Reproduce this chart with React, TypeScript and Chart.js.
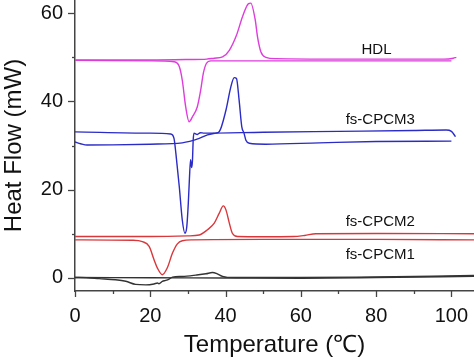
import React, { useEffect, useRef } from 'react';
import { Chart, registerables } from 'chart.js';

Chart.register(...registerables);

type Pt = [number, number];

// Temperature (°C), heat flow (mW)
const hdlHeating: Pt[] = [
  [0, 49.4], [20, 49.4], [30, 49.5], [35, 49.6], [37, 49.8], [39.2, 50.1], [41, 51.6],
  [42.9, 55.0], [44.5, 59.2], [46.1, 62.2], [46.7, 62.3], [47.9, 58.4], [48.5, 54.6],
  [49.4, 51.2], [50.7, 50.0], [53.4, 49.7], [70, 49.6], [98, 49.6], [100.5, 49.8], [101.3, 50.0],
];
const hdlCooling: Pt[] = [
  [0, 49.3], [20, 49.2], [26.3, 49.0], [27.7, 47.9], [28.5, 44.8], [29.4, 38.8], [30.3, 35.4],
  [31.2, 36.5], [32.5, 38.8], [33.4, 42.6], [34.1, 46.4], [34.9, 48.6], [36.1, 49.2],
  [60, 49.2], [100, 49.2],
];
const cpcm3Heating: Pt[] = [
  [0, 30.8], [1.5, 30.4], [3.2, 30.1], [10, 30.15], [20, 30.3], [28.5, 30.6], [33, 31.6],
  [35.2, 32.4], [37.4, 32.8], [38.3, 33.1], [40.1, 38.0], [41.4, 43.3], [42.3, 45.4],
  [42.9, 45.2], [43.6, 40.3], [44.3, 34.3], [44.9, 32.8], [45.4, 31.2], [46.3, 30.5],
  [50.7, 30.3], [64.9, 30.6], [80, 30.9], [100, 31.0],
];
const cpcm3Cooling: Pt[] = [
  [0, 33.1], [20, 32.8], [25.4, 32.6], [26.3, 31.6], [26.8, 28.2], [27.7, 20.7], [28.5, 13.1],
  [29.2, 10.1], [29.7, 11.6], [30.1, 16.9], [30.4, 22.5], [30.7, 26.8], [31.0, 25.0],
  [31.2, 26.5], [31.4, 31.2], [31.6, 32.8], [32.5, 32.5], [33.3, 32.9], [34.3, 32.8],
  [50, 33.0], [70, 33.2], [90, 33.4], [98.6, 33.5], [100, 33.2], [101.1, 32.0],
];
const cpcm2Heating: Pt[] = [
  [0, 9.35], [20, 9.35], [30, 9.5], [33, 9.7], [35.2, 10.9], [37, 12.4], [38.3, 14.6],
  [39.4, 16.3], [40.1, 15.4], [41, 12.4], [41.8, 10.1], [43.2, 9.35], [50, 9.3], [58, 9.35],
  [61, 9.6], [64, 10.0], [80, 10.05], [106, 10.0],
];
const cpcm2Cooling: Pt[] = [
  [0, 8.6], [15.2, 8.5], [17.9, 8.2], [19.7, 7.1], [21, 4.1], [21.9, 2.2], [23.2, 0.7],
  [24.5, 2.2], [25.9, 5.6], [27.2, 7.7], [28.5, 8.4], [31.2, 8.6], [50, 8.7], [80, 8.7], [106, 8.6],
];
const cpcm1Heating: Pt[] = [
  [0, 0.07], [3, 0], [6.4, -0.2], [10.8, -0.45], [13.5, -0.8], [16.1, -1.5], [18.8, -1.6],
  [21, -1.4], [21.9, -1.2], [22.3, -1.35], [23.2, -0.8], [24.1, -0.6], [25, -0.3], [25.9, 0.15],
  [28.5, 0.3], [32.1, 0.6], [34.8, 0.9], [36.5, 1.2], [37.8, 0.9], [39.2, 0.3], [40.5, 0.1],
  [46, 0.05], [60, 0.05], [80, 0.2], [95, 0.35], [106, 0.5],
];
const cpcm1Cooling: Pt[] = [
  [0, 0.05], [20, 0.0], [40, -0.05], [60, -0.1], [80, 0.05], [106, 0.35],
];

const seriesNames = ['HDL', 'fs-CPCM3', 'fs-CPCM2', 'fs-CPCM1'];
const seriesColors = ['#dd3ddb', '#2b2bc6', '#d8383c', '#333333'];
const seriesCurves: Pt[][][] = [
  [hdlHeating, hdlCooling],
  [cpcm3Heating, cpcm3Cooling],
  [cpcm2Heating, cpcm2Cooling],
  [cpcm1Heating, cpcm1Cooling],
];
const labelT = [80.1, 81.1, 81.1, 81.1];
const labelQ = [51.6, 35.8, 12.7, 5.2];

const xMajorTicks = [0, 20, 40, 60, 80, 100];
const xMinorTicks = [10, 30, 50, 70, 90];
const yMajorTicks = [0, 20, 40, 60];
const yMinorTicks = [10, 30, 50];

const AXIS = '#444444';
const FONT = '"Liberation Sans", Arial, Helvetica, sans-serif';

const zeroPadding = (s: any) => {
  s.paddingLeft = 0;
  s.paddingRight = 0;
  s.paddingTop = 0;
  s.paddingBottom = 0;
};

const decorPlugin = {
  id: 'decor',
  afterDraw(chart: any) {
    const { ctx, chartArea } = chart;
    const x = chart.scales.x;
    const y = chart.scales.y;
    ctx.save();
    ctx.strokeStyle = AXIS;
    ctx.lineWidth = 1.3;
    const drawX = (v: number, len: number) => {
      const px = Math.round(x.getPixelForValue(v)) + 0.5;
      ctx.beginPath();
      ctx.moveTo(px, chartArea.bottom);
      ctx.lineTo(px, chartArea.bottom + len);
      ctx.stroke();
    };
    const drawY = (v: number, len: number) => {
      const py = Math.round(y.getPixelForValue(v)) + 0.5;
      ctx.beginPath();
      ctx.moveTo(chartArea.left, py);
      ctx.lineTo(chartArea.left - len, py);
      ctx.stroke();
    };
    xMajorTicks.forEach((v) => drawX(v, 6));
    xMinorTicks.forEach((v) => drawX(v, 3));
    yMajorTicks.forEach((v) => drawY(v, 7));
    yMinorTicks.forEach((v) => drawY(v, 3));

    ctx.fillStyle = '#111';
    ctx.font = `15px ${FONT}`;
    ctx.textAlign = 'center';
    ctx.textBaseline = 'middle';
    seriesNames.forEach((name, i) => {
      ctx.fillText(name, x.getPixelForValue(labelT[i]), y.getPixelForValue(labelQ[i]));
    });
    ctx.restore();
  },
};

export default function App() {
  const ref = useRef<HTMLCanvasElement | null>(null);

  useEffect(() => {
    if (!ref.current) return;
    const datasets: any[] = [];
    seriesCurves.forEach((curves, i) => {
      curves.forEach((curve, j) => {
        datasets.push({
          label: `${seriesNames[i]}-${j}`,
          data: curve.map(([t, q]) => ({ x: t, y: q })),
          borderColor: seriesColors[i],
          backgroundColor: seriesColors[i],
          borderWidth: 1.4,
          pointRadius: 0,
          showLine: true,
          fill: false,
          cubicInterpolationMode: 'monotone',
        });
      });
    });

    const chart = new Chart(ref.current, {
      type: 'scatter',
      data: { datasets },
      options: {
        animation: false,
        responsive: false,
        devicePixelRatio: 1,
        layout: { padding: 0 },
        plugins: { legend: { display: false }, tooltip: { enabled: false } },
        scales: {
          x: {
            type: 'linear',
            min: 0,
            max: 106,
            afterBuildTicks: (s: any) => {
              s.ticks = xMajorTicks.map((v) => ({ value: v }));
            },
            afterFit: (s: any) => {
              s.height = 71;
              zeroPadding(s);
            },
            grid: { display: false, drawTicks: false },
            border: { display: true, color: AXIS, width: 1.5 },
            ticks: {
              padding: 13,
              color: '#111',
              font: { family: FONT, size: 20 },
              maxRotation: 0,
            },
            title: {
              display: true,
              text: 'Temperature (℃)',
              color: '#111',
              font: { family: FONT, size: 24 },
              padding: { top: 0, bottom: 2 },
            },
          },
          y: {
            type: 'linear',
            min: -3,
            max: 63,
            afterBuildTicks: (s: any) => {
              s.ticks = yMajorTicks.map((v) => ({ value: v }));
            },
            afterFit: (s: any) => {
              s.width = 75;
              zeroPadding(s);
            },
            grid: { display: false, drawTicks: false },
            border: { display: true, color: AXIS, width: 1.5 },
            ticks: {
              padding: 12,
              color: '#111',
              font: { family: FONT, size: 20 },
            },
            title: {
              display: true,
              text: 'Heat Flow (mW)',
              color: '#111',
              font: { family: FONT, size: 24 },
              padding: { top: 0, bottom: 0 },
            },
          },
        },
      },
      plugins: [decorPlugin],
    });
    return () => chart.destroy();
  }, []);

  return (
    <div style={{ position: 'fixed', left: 0, top: 0, width: 474, height: 362, background: '#fff' }}>
      <canvas ref={ref} width={474} height={362} />
    </div>
  );
}
